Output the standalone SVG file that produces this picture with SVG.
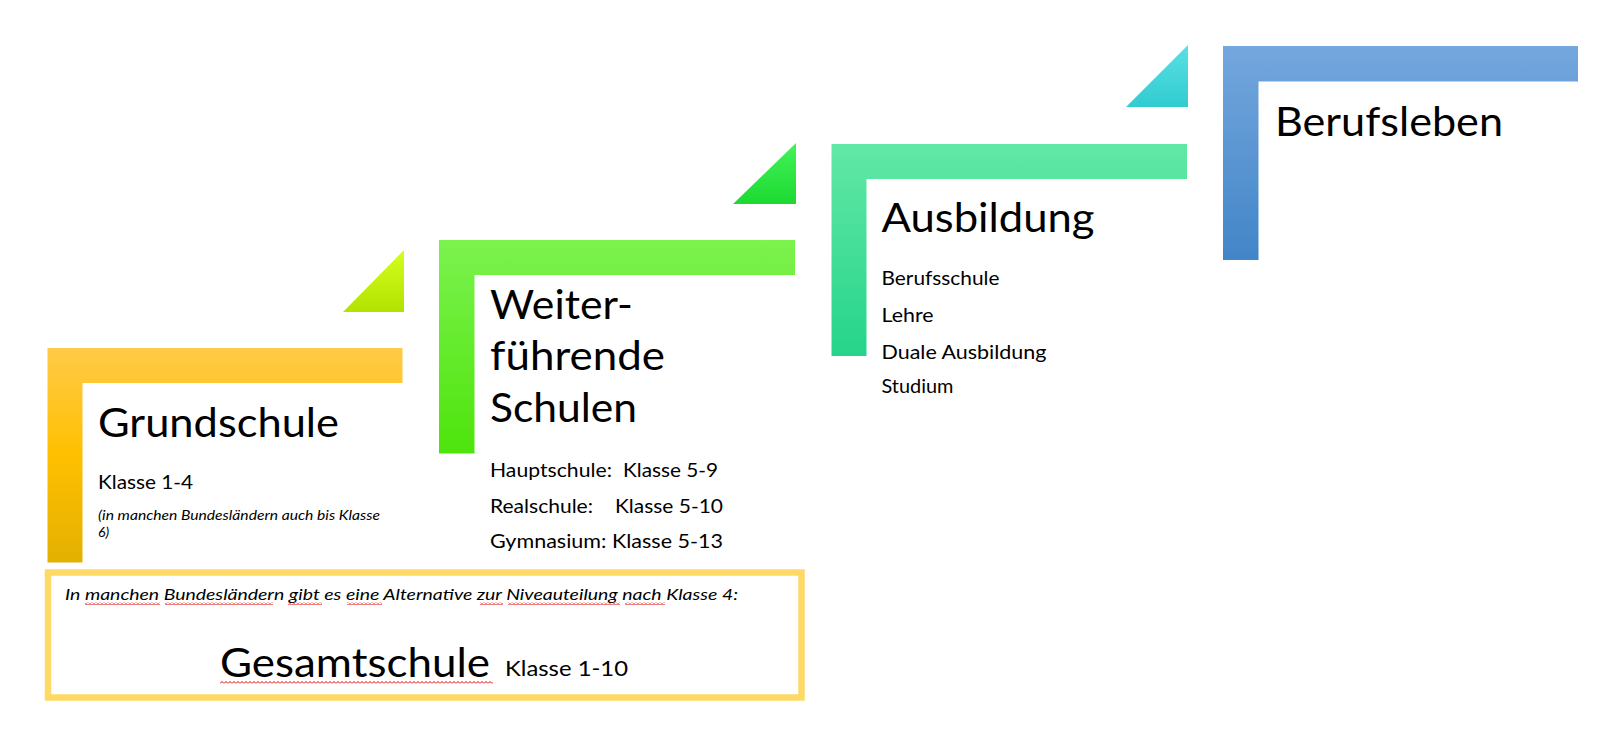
<svg xmlns="http://www.w3.org/2000/svg" width="1600" height="735" viewBox="0 0 1600 735">
  <style>
    text { font-family: Lato, "Open Sans", "Liberation Sans", sans-serif; fill: #000; }
    .title { font-size: 41px; }
    .item { font-size: 20px; }
    .note { font-size: 14px; font-style: italic; }
    .hint { font-size: 16px; font-style: italic; }
    .small { font-size: 22px; }
    .squiggle { fill: url(#sq); }
  </style>
  <defs>
    <linearGradient id="gOrange" x1="0" y1="0" x2="0" y2="1">
      <stop offset="0" stop-color="#FFCA48"/>
      <stop offset="0.5" stop-color="#FFC000"/>
      <stop offset="1" stop-color="#E3B000"/>
    </linearGradient>
    <linearGradient id="gGreen" x1="0" y1="0" x2="0" y2="1">
      <stop offset="0" stop-color="#7CF24E"/>
      <stop offset="1" stop-color="#4EE40C"/>
    </linearGradient>
    <linearGradient id="gTeal" x1="0" y1="0" x2="0" y2="1">
      <stop offset="0" stop-color="#62E8A6"/>
      <stop offset="1" stop-color="#25D48A"/>
    </linearGradient>
    <linearGradient id="gBlue" x1="0" y1="0" x2="0" y2="1">
      <stop offset="0" stop-color="#74A7DD"/>
      <stop offset="1" stop-color="#4285C8"/>
    </linearGradient>
    <linearGradient id="tLime" x1="0" y1="0" x2="0" y2="1">
      <stop offset="0" stop-color="#D2FF1E"/>
      <stop offset="1" stop-color="#B4E200"/>
    </linearGradient>
    <linearGradient id="tGreen" x1="0" y1="0" x2="0" y2="1">
      <stop offset="0" stop-color="#44F25A"/>
      <stop offset="1" stop-color="#1CDA30"/>
    </linearGradient>
    <linearGradient id="tCyan" x1="0" y1="0" x2="0" y2="1">
      <stop offset="0" stop-color="#5AE0E4"/>
      <stop offset="1" stop-color="#30CCD0"/>
    </linearGradient>
    <pattern id="sq" width="4" height="3" patternUnits="userSpaceOnUse">
      <path d="M0 2.5 L2 0.5 L4 2.5" fill="none" stroke="#E00000" stroke-width="1"/>
    </pattern>
  </defs>

  <rect width="1600" height="735" fill="#fff"/>

  <g id="connectors">
    <polygon points="343,312 404,250 404,312" fill="url(#tLime)"/>
    <polygon points="733,204 796,143 796,204" fill="url(#tGreen)"/>
    <polygon points="1126,107 1188,45 1188,107" fill="url(#tCyan)"/>
  </g>

  <g id="grundschule">
    <path d="M47.5 348 H402.5 V383 H82.5 V562.5 H47.5 Z" fill="url(#gOrange)"/>
    <text class="title" x="98" y="437" textLength="241" lengthAdjust="spacingAndGlyphs">Grundschule</text>
    <text class="item" x="98" y="489" textLength="95" lengthAdjust="spacingAndGlyphs">Klasse 1-4</text>
    <text class="note" x="98" y="520" textLength="282" lengthAdjust="spacingAndGlyphs">(in manchen Bundesländern auch bis Klasse</text>
    <text class="note" x="98" y="536.5">6)</text>
  </g>

  <g id="weiterfuehrende">
    <path d="M439 240 H795 V275 H474.5 V453.5 H439 Z" fill="url(#gGreen)"/>
    <text class="title" x="490" y="318.5" textLength="143" lengthAdjust="spacingAndGlyphs">Weiter-</text>
    <text class="title" x="490" y="370" textLength="175" lengthAdjust="spacingAndGlyphs">führende</text>
    <text class="title" x="490" y="421.5" textLength="147" lengthAdjust="spacingAndGlyphs">Schulen</text>
    <text class="item" y="476.5"><tspan x="490" textLength="122" lengthAdjust="spacingAndGlyphs">Hauptschule:</tspan><tspan x="623" textLength="95" lengthAdjust="spacingAndGlyphs">Klasse 5-9</tspan></text>
    <text class="item" y="512.5"><tspan x="490" textLength="103" lengthAdjust="spacingAndGlyphs">Realschule:</tspan><tspan x="615" textLength="108" lengthAdjust="spacingAndGlyphs">Klasse 5-10</tspan></text>
    <text class="item" x="490" y="548" textLength="233" lengthAdjust="spacingAndGlyphs">Gymnasium: Klasse 5-13</text>
  </g>

  <g id="ausbildung">
    <path d="M831.5 144 H1187 V179 H866.5 V356 H831.5 Z" fill="url(#gTeal)"/>
    <text class="title" x="881.5" y="231.5" textLength="213" lengthAdjust="spacingAndGlyphs">Ausbildung</text>
    <text class="item" x="881.5" y="285" textLength="118" lengthAdjust="spacingAndGlyphs">Berufsschule</text>
    <text class="item" x="881.5" y="322" textLength="52" lengthAdjust="spacingAndGlyphs">Lehre</text>
    <text class="item" x="881.5" y="359" textLength="165" lengthAdjust="spacingAndGlyphs">Duale Ausbildung</text>
    <text class="item" x="881.5" y="393" textLength="72" lengthAdjust="spacingAndGlyphs">Studium</text>
  </g>

  <g id="berufsleben">
    <path d="M1223 46 H1578 V81.5 H1258.5 V260 H1223 Z" fill="url(#gBlue)"/>
    <text class="title" x="1275" y="136" textLength="228" lengthAdjust="spacingAndGlyphs">Berufsleben</text>
  </g>

  <g id="gesamtschule">
    <rect x="48" y="572.5" width="753.5" height="125" fill="#fff" stroke="#FFD966" stroke-width="6.5"/>
    <text class="hint" x="65" y="600" textLength="673" lengthAdjust="spacingAndGlyphs">In manchen Bundesländern gibt es eine Alternative zur Niveauteilung nach Klasse 4:</text>
    <rect class="squiggle" x="85" y="602" width="75" height="3"/>
    <rect class="squiggle" x="165" y="602" width="108" height="3"/>
    <rect class="squiggle" x="288" y="602" width="34" height="3"/>
    <rect class="squiggle" x="347" y="602" width="35" height="3"/>
    <rect class="squiggle" x="480" y="602" width="23" height="3"/>
    <rect class="squiggle" x="508" y="602" width="112" height="3"/>
    <rect class="squiggle" x="625" y="602" width="40" height="3"/>
    <text class="title" x="220" y="676.5" textLength="270" lengthAdjust="spacingAndGlyphs">Gesamtschule</text>
    <rect class="squiggle" x="220" y="681" width="273" height="3"/>
    <text class="small" x="505" y="676" textLength="123" lengthAdjust="spacingAndGlyphs">Klasse 1-10</text>
  </g>
</svg>
